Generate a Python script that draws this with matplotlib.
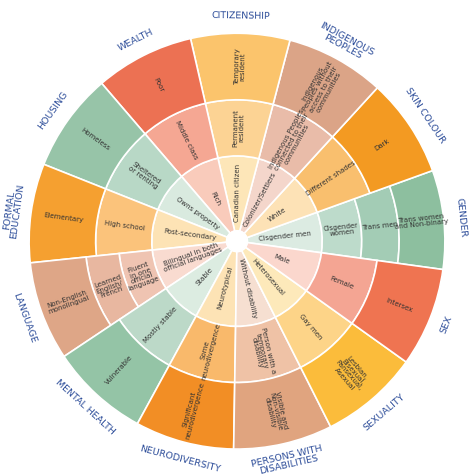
import matplotlib
matplotlib.use("Agg")
import matplotlib.pyplot as plt
from matplotlib.patches import Wedge, Circle
import numpy as np

categories = ["GENDER", "SKIN COLOUR", "INDIGENOUS\nPEOPLES", "CITIZENSHIP", "WEALTH", "HOUSING",
              "FORMAL\nEDUCATION", "LANGUAGE", "MENTAL HEALTH", "NEURODIVERSITY",
              "PERSONS WITH\nDISABILITIES", "SEXUALITY", "SEX"]
items = [
    ["Cisgender men", "Cisgender\nwomen", "Trans men", "Trans women\nand Non-binary"],
    ["White", "Different shades", "Dark"],
    ["Colonizer/Settlers", "Indigenous Peoples\nconnected to their\ncommunities", "Indigenous\nPeoples without\naccess to their\ncommunities"],
    ["Canadian citizen", "Permanent\nresident", "Temporary\nresident"],
    ["Rich", "Middle class", "Poor"],
    ["Owns property", "Sheltered\nor renting", "Homeless"],
    ["Post-secondary", "High school", "Elementary"],
    ["Bilingual in both\nofficial languages", "Fluent\nin one\nofficial\nlanguage", "Learned\nEnglish/\nFrench", "Non-English\nmonolingual"],
    ["Stable", "Mostly stable", "Vulnerable"],
    ["Neurotypical", "Some\nneurodivergence", "Significant\nneurodivergence"],
    ["Without disability", "Person with a\ntemporary\ndisability", "Visible and\nNon-visible\ndisability"],
    ["Heterosexual", "Gay men", "Lesbian,\nBisexual,\nPansexual,\nAsexual"],
    ["Male", "Female", "Intersex"],
]
colors = [
    ["#dcebe2", "#bddbcb", "#a3ccb5", "#8dbf9f"],
    ["#fde2b6", "#f9bf6e", "#f39a22"],
    ["#f4d6cb", "#e9bca9", "#dba487"],
    ["#fde6b8", "#fcd394", "#fbc46c"],
    ["#f9cbbb", "#f5a793", "#ec7153"],
    ["#d9eadf", "#b8d8c6", "#97c4a8"],
    ["#fde3b5", "#fbc37b", "#f5a030"],
    ["#f9dbd0", "#efc4b2", "#e8b7a0", "#dea687"],
    ["#dcece1", "#bcd9c8", "#94c4a6"],
    ["#fde3b5", "#f9b96b", "#f28e25"],
    ["#f6dfd1", "#efc2a6", "#e0a47f"],
    ["#fde9ba", "#fdd488", "#fbbc3b"],
    ["#fbd7cd", "#f4a593", "#ef7451"],
]
radii_default = [0.05, 0.41, 0.68, 1.0]
radii_special = {0: [0.05, 0.41, 0.60, 0.78, 1.0], 7: [0.05, 0.41, 0.57, 0.73, 1.0]}

n = len(categories)
step = 360 / n
start_center = 6.0

fig = plt.figure(figsize=(4.74, 4.74), dpi=100)
ax = fig.add_axes([0, 0, 1, 1])
ax.set_xlim(-1.14, 1.14)
ax.set_ylim(-1.12, 1.16)
ax.set_aspect("equal")
ax.axis("off")

for i in range(n):
    c = start_center + i * step
    t1, t2 = c - step / 2, c + step / 2
    rs = radii_special.get(i, radii_default)
    for j, (lab, col) in enumerate(zip(items[i], colors[i])):
        r0, r1 = rs[j], rs[j + 1]
        ax.add_patch(Wedge((0, 0), r1, t1, t2, width=r1 - r0, facecolor=col,
                           edgecolor="white", linewidth=1.2))
        rm = (r0 + r1) / 2
        a = np.deg2rad(c)
        rot = c
        if 90 < (c % 360) < 270:
            rot = c - 180
        ax.text(rm * np.cos(a), rm * np.sin(a), lab, rotation=rot, rotation_mode="anchor",
                ha="center", va="center", fontsize=5.0, color="#333333", linespacing=0.95)
    a = np.deg2rad(c)
    rl = 1.085
    cc = c % 360
    rot = cc - 90 if cc <= 180 else cc + 90
    ax.text(rl * np.cos(a), rl * np.sin(a), categories[i], rotation=rot, rotation_mode="anchor",
            ha="center", va="center", fontsize=6.8, color="#2e4e9a", linespacing=0.95)

ax.add_patch(Circle((0, 0), 0.05, facecolor="white", edgecolor="white"))
fig.savefig("out.png", dpi=100)
